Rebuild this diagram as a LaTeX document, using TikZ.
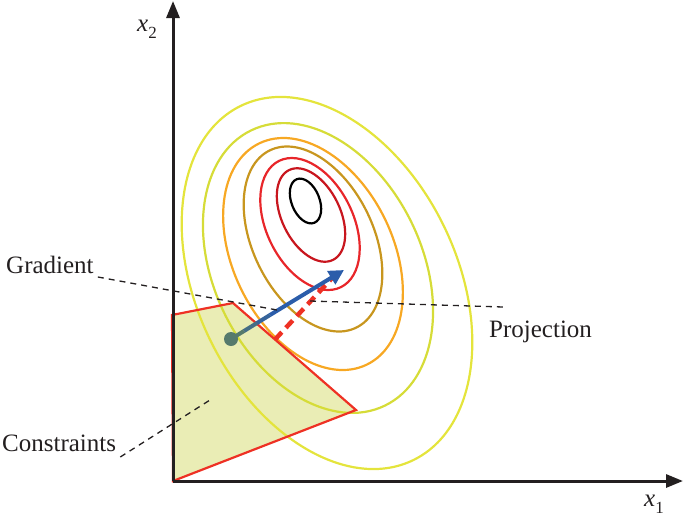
\documentclass[tikz,border=0pt]{standalone}
\usepackage{fontspec}
\setmainfont{Liberation Serif}
\usetikzlibrary{arrows.meta}
\definecolor{axisc}{HTML}{231F20}
\definecolor{yel1}{HTML}{E4E43C}
\definecolor{yel2}{HTML}{D6DC38}
\definecolor{orng}{HTML}{F7A823}
\definecolor{gold}{HTML}{C8961E}
\definecolor{redc}{HTML}{E8262A}
\definecolor{dred}{HTML}{C8161E}
\definecolor{fillc}{HTML}{EAEDB5}
\definecolor{dotc}{HTML}{567A6C}
\definecolor{bluec}{HTML}{2B5DAA}
\definecolor{polyred}{HTML}{EE3124}
\tikzset{
  axis/.style={line width=3pt, draw=axisc, -{Triangle[width=13pt,length=17pt]}},
  contour/.style={line width=2.2pt},
  lbl/.style={font=\fontsize{25}{28}\selectfont, text=axisc, inner sep=0pt},
  leader/.style={line width=1.3pt, draw=axisc, dash pattern=on 6pt off 5pt},
}
\begin{document}
\begin{tikzpicture}[x=1pt,y=-1pt]
\useasboundingbox (0,0) rectangle (685,522);
% constraint region fill
\coordinate (p1) at (172,315);
\coordinate (p2) at (233,303);
\coordinate (p3) at (356,410);
\coordinate (p4) at (173,481);
\fill[fillc] (p1) -- (p2) -- (p3) -- (p4) -- cycle;
% contours
\draw[contour, yel1] (327,283) ellipse [x radius=197pt, y radius=130pt, rotate=-64];
\draw[contour, yel2] (318,268) ellipse [x radius=153pt, y radius=104pt, rotate=-64];
\draw[contour, orng] (313,254) ellipse [x radius=123pt, y radius=80pt, rotate=-64];
\draw[contour, gold] (313,239) ellipse [x radius=98.6pt, y radius=60.3pt, rotate=-64];
\draw[contour, redc] (310,224) ellipse [x radius=70.3pt, y radius=43.4pt, rotate=-64];
\draw[contour, dred] (311,215) ellipse [x radius=50pt, y radius=29.2pt, rotate=-64];
\draw[contour, black] (305.5,201) ellipse [x radius=23.5pt, y radius=14pt, rotate=-68];
% region border
\draw[line width=2.2pt, polyred, line join=miter] (p1) -- (p2) -- (p3) -- (p4) -- cycle;
% axes
\coordinate (o) at (173,481);
\coordinate (xe) at (683,481);
\coordinate (ye) at (173,1);
\draw[axis] (o) -- (xe);
\draw[axis] (o) -- (ye);
% projection (red dashed)
\coordinate (pr0) at (275,339.5);
\coordinate (pr1) at (334,276);
\draw[line width=4.5pt, polyred, dash pattern=on 10pt off 6pt] (pr0) -- (pr1);
% gradient arrow
\coordinate (g0) at (231,339);
\coordinate (ga) at (244,331);
\coordinate (gb) at (257,323);
\coordinate (gc) at (270,315);
\coordinate (g1) at (344,270);
\draw[line width=4pt, dotc] (g0) -- (ga);
\draw[line width=4pt, dotc!60!bluec] (ga) -- (gb);
\draw[line width=4pt, dotc!25!bluec] (gb) -- (gc);
\draw[line width=4pt, bluec, -{Triangle[width=15pt,length=15pt]}] (gc) -- (g1);
\fill[dotc] (g0) circle (7pt);
% labels
\node[lbl, anchor=base west] (grad) at (6,273) {Gradient};
\node[lbl, anchor=base west] (proj) at (489,337) {Projection};
\node[lbl, anchor=base west] (cons) at (2,451) {Constraints};
\node[lbl, anchor=base west] (x1) at (644,506) {\textit{x}\raisebox{-7pt}{\fontsize{17}{20}\selectfont 1}};
\node[lbl, anchor=base west] (x2) at (137,31) {\textit{x}\raisebox{-7pt}{\fontsize{17}{20}\selectfont 2}};
% leader lines
\coordinate (gl) at (277,310);
\coordinate (pl) at (310,301);
\coordinate (cl) at (210,400);
\draw[leader] ([xshift=4pt,yshift=-4pt]grad.base east) -- (gl);
\draw[leader] (pl) -- (503,307);
\draw[leader] ([xshift=4pt,yshift=-6pt]cons.base east) -- (cl);
\end{tikzpicture}
\end{document}
